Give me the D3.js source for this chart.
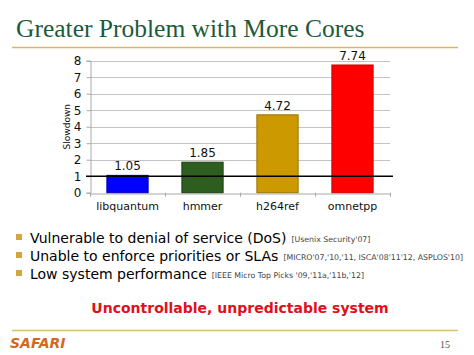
<!DOCTYPE html>
<html><head><meta charset="utf-8">
<script src="https://cdn.jsdelivr.net/npm/d3@7"></script>
<style>body{margin:0;background:#fff}svg{display:block}</style>
</head><body>
<script>
const categories = ["libquantum","hmmer","h264ref","omnetpp"];
const values = [1.05,1.85,4.72,7.74];
const barColors = ["#0000ff","#2d5e1f","#cc9900","#ff0000"];
const barStrokes = ["#0000aa","#1d4012","#9a7400","#cc0000"];
const yTicks = [0,1,2,3,4,5,6,7,8];
const bullets = [
  {main:"Vulnerable to denial of service (DoS)", ref:"[Usenix Security'07]"},
  {main:"Unable to enforce priorities or SLAs", ref:"[MICRO'07,'10,'11, ISCA'08'11'12, ASPLOS'10]"},
  {main:"Low system performance", ref:"[IEEE Micro Top Picks '09,'11a,'11b,'12]"}
];

const W=474,H=355;
const svg=d3.select("body").append("svg").attr("width",W).attr("height",H);

// title
svg.append("text").attr("x",16).attr("y",37).text("Greater Problem with More Cores")
  .attr("font-family","Liberation Serif, serif").attr("font-size",25.5).attr("fill","#1b5a3a");
svg.append("line").attr("x1",12).attr("x2",458).attr("y1",47.5).attr("y2",47.5).attr("stroke","#d9b461").attr("stroke-width",1.5);

// chart
const x=d3.scaleBand().domain(categories).range([90,390]).paddingInner(0.45).paddingOuter(0.225);
const y=d3.scaleLinear().domain([0,8]).range([192.7,60.7]);
const g=svg.append("g");
g.selectAll("line.grid").data(yTicks.filter(d=>d>0)).join("line").attr("class","grid")
  .attr("x1",90).attr("x2",390).attr("y1",d=>Math.round(y(d))+0.5).attr("y2",d=>Math.round(y(d))+0.5)
  .attr("stroke","#c4c4c4").attr("stroke-width",1);
const yAxis=g.append("g").attr("transform","translate(90.5,0)")
  .call(d3.axisLeft(y).tickValues(yTicks).tickSize(4).tickPadding(5).tickFormat(d3.format("d")));
yAxis.select(".domain").attr("stroke","#a8a8a8");
yAxis.selectAll(".tick line").attr("stroke","#a8a8a8");
yAxis.selectAll("text").attr("font-family","DejaVu Sans, sans-serif").attr("font-size",12).attr("fill","#111");
const xAxis=g.append("g").attr("transform",`translate(0,${Math.round(y(0))+0.5})`)
  .call(d3.axisBottom(x).tickSize(0).tickPadding(9));
xAxis.select(".domain").attr("stroke","#a8a8a8");
xAxis.selectAll("text").attr("font-family","DejaVu Sans, sans-serif").attr("font-size",11).attr("fill","#111");
const step=x.step();
g.selectAll("line.bt").data(d3.range(categories.length+1)).join("line").attr("class","bt")
  .attr("x1",d=>90.5+d*step).attr("x2",d=>90.5+d*step)
  .attr("y1",y(0)).attr("y2",y(0)+4).attr("stroke","#a8a8a8");

g.selectAll("rect.bar").data(values).join("rect").attr("class","bar")
  .attr("x",(d,i)=>x(categories[i])).attr("width",x.bandwidth())
  .attr("y",d=>y(d)).attr("height",d=>y(0)-y(d))
  .attr("fill",(d,i)=>barColors[i]).attr("stroke",(d,i)=>barStrokes[i]).attr("stroke-width",1);
g.selectAll("text.val").data(values).join("text").attr("class","val")
  .attr("x",(d,i)=>x(categories[i])+x.bandwidth()/2).attr("y",d=>y(d)-5)
  .attr("text-anchor","middle").attr("font-family","DejaVu Sans, sans-serif").attr("font-size",12).attr("fill","#111")
  .text(d=>d3.format(".2f")(d));
g.append("line").attr("x1",86).attr("x2",393).attr("y1",y(1)).attr("y2",y(1)).attr("stroke","#000").attr("stroke-width",1.6);
g.append("text").attr("transform",`translate(70,${y(4)}) rotate(-90)`).attr("text-anchor","middle")
  .attr("font-family","DejaVu Sans, sans-serif").attr("font-size",9).attr("fill","#111").text("Slowdown");

// bullets
const by=[243,261,279];
bullets.forEach((b,i)=>{
  svg.append("rect").attr("x",16).attr("y",by[i]-9).attr("width",6).attr("height",6).attr("fill","#d4a53a");
  const t=svg.append("text").attr("x",30).attr("y",by[i]).attr("font-family","DejaVu Sans, sans-serif").attr("font-size",14).attr("fill","#000").text(b.main);
  const w=t.node().getComputedTextLength();
  svg.append("text").attr("x",30+w+5).attr("y",by[i]-1).attr("font-family","DejaVu Sans, sans-serif").attr("font-size",7.8).attr("fill","#444").text(b.ref);
});

svg.append("text").attr("x",240).attr("y",313).attr("text-anchor","middle").attr("font-family","DejaVu Sans, sans-serif")
  .attr("font-weight","bold").attr("font-size",14).attr("fill","#e0101a").text("Uncontrollable, unpredictable system");

svg.append("line").attr("x1",12).attr("x2",458).attr("y1",330.5).attr("y2",330.5).attr("stroke","#d9c070").attr("stroke-width",1.5);
svg.append("text").attr("x",10).attr("y",348).attr("font-family","DejaVu Sans, sans-serif").attr("font-weight","bold").attr("font-style","italic")
  .attr("font-size",14).attr("fill","#d2691e").text("SAFARI");
svg.append("text").attr("x",440).attr("y",348).attr("font-family","Liberation Serif, serif").attr("font-size",10).attr("fill","#555").text("15");
</script>
</body></html>
